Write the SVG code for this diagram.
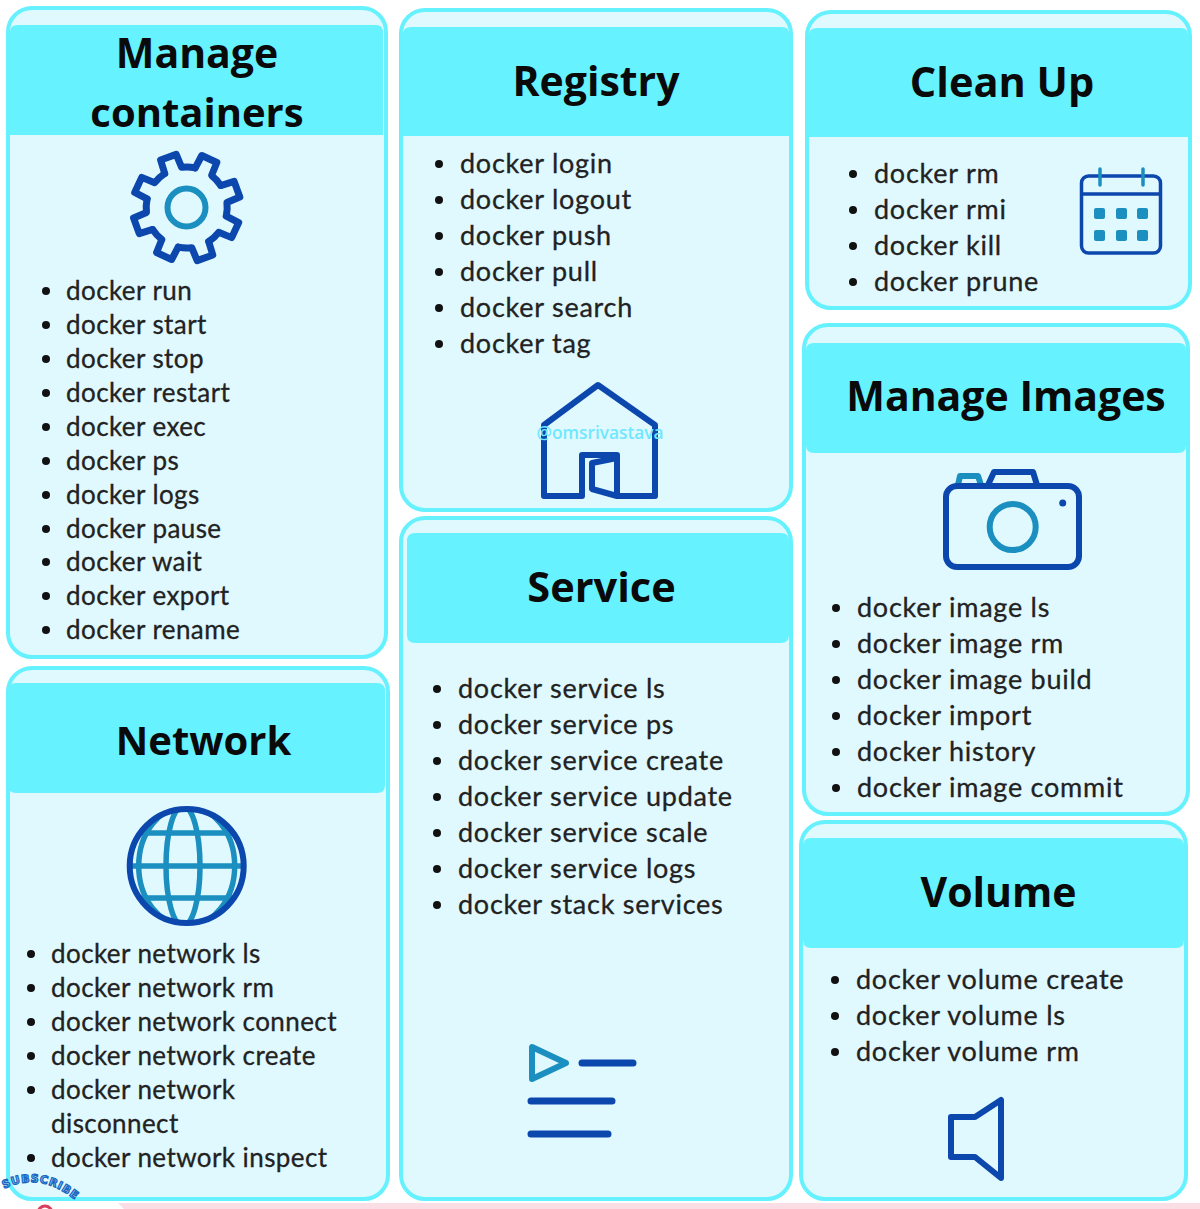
<svg xmlns="http://www.w3.org/2000/svg" xmlns:xlink="http://www.w3.org/1999/xlink" width="1200" height="1209" viewBox="0 0 1200 1209">
<style>
.panel{fill:#e0f9ff;stroke:#66f1ff;stroke-width:4}
.head{fill:#66f2ff}
.title{font-family:"Open Sans","Liberation Sans",sans-serif;font-weight:700;font-size:41px;fill:#0a0a0a;text-anchor:middle}
.item{font-family:"Lato","Open Sans",sans-serif;font-size:26px;fill:#222;stroke:#222;stroke-width:.3px;letter-spacing:.42px}
.wide{font-size:27px;letter-spacing:.75px}
.nv{fill:none;stroke:#0b47ad;stroke-width:6;stroke-linecap:round;stroke-linejoin:round}
.tl{fill:none;stroke:#1a8fc0;stroke-width:6;stroke-linecap:round;stroke-linejoin:round}
.bul{fill:#111}
.sq{fill:#1a8fc0}
</style>
<defs>
<path id="tooth" d="M39.500 -9L53.500 -8.300L53.500 8.300L39.500 9A40.500 40.500 0 0 1 34.400 21.400"/>
<circle id="b" r="4"/>
<clipPath id="globeclip"><circle cx="186.7" cy="866" r="57"/></clipPath>
<path id="arc" d="M4 1189Q42 1170 80 1204"/>
</defs>
<rect width="1200" height="1209" fill="#fff"/>
<path d="M118 1203H1200V1209H124Z" fill="#fbdde6"/>
<circle cx="45" cy="1213" r="7" fill="none" stroke="#d8405f" stroke-width="3"/>

<g id="manage-containers">
<rect class="panel" x="8" y="8" width="378" height="649" rx="24"/>
<path class="head" d="M18 25H376Q383 25 383 32V135H10V32Q10 25 18 25Z"/>
<text class="title" x="197" y="68">Manage</text>
<text class="title" x="197" y="127" style="font-size:40px">containers</text>
<g transform="translate(186.7 207.5)" class="nv" style="stroke-width:7">
<use xlink:href="#tooth" transform="rotate(-110)"/><use xlink:href="#tooth" transform="rotate(-65)"/><use xlink:href="#tooth" transform="rotate(-20)"/><use xlink:href="#tooth" transform="rotate(25)"/><use xlink:href="#tooth" transform="rotate(70)"/><use xlink:href="#tooth" transform="rotate(115)"/><use xlink:href="#tooth" transform="rotate(160)"/><use xlink:href="#tooth" transform="rotate(205)"/>
</g>
<circle class="tl" cx="186.5" cy="207.5" r="19"/>
<g class="bul"><use xlink:href="#b" x="46" y="291"/><use xlink:href="#b" x="46" y="325"/><use xlink:href="#b" x="46" y="359"/><use xlink:href="#b" x="46" y="393"/><use xlink:href="#b" x="46" y="427"/><use xlink:href="#b" x="46" y="461"/><use xlink:href="#b" x="46" y="495"/><use xlink:href="#b" x="46" y="529"/><use xlink:href="#b" x="46" y="562"/><use xlink:href="#b" x="46" y="596"/><use xlink:href="#b" x="46" y="630"/></g>
<text class="item" x="66" y="300">docker run</text>
<text class="item" x="66" y="334">docker start</text>
<text class="item" x="66" y="368">docker stop</text>
<text class="item" x="66" y="402">docker restart</text>
<text class="item" x="66" y="436">docker exec</text>
<text class="item" x="66" y="470">docker ps</text>
<text class="item" x="66" y="504">docker logs</text>
<text class="item" x="66" y="538">docker pause</text>
<text class="item" x="66" y="571">docker wait</text>
<text class="item" x="66" y="605">docker export</text>
<text class="item" x="66" y="639">docker rename</text>
</g>

<g id="registry">
<rect class="panel" x="401" y="10" width="390" height="500" rx="24"/>
<path class="head" d="M411 27H782Q789 27 789 34V136H403V34Q403 27 411 27Z"/>
<text class="title" x="596" y="96">Registry</text>
<g class="bul"><use xlink:href="#b" x="439" y="164"/><use xlink:href="#b" x="439" y="200"/><use xlink:href="#b" x="439" y="236"/><use xlink:href="#b" x="439" y="272"/><use xlink:href="#b" x="439" y="308"/><use xlink:href="#b" x="439" y="344"/></g>
<text class="item wide" x="460" y="173">docker login</text>
<text class="item wide" x="460" y="209">docker logout</text>
<text class="item wide" x="460" y="245">docker push</text>
<text class="item wide" x="460" y="281">docker pull</text>
<text class="item wide" x="460" y="317">docker search</text>
<text class="item wide" x="460" y="353">docker tag</text>
<path class="nv" d="M582 496H544V425L598 385L655 425V496H617M582 496V455H617V496L592 489V463L617 458"/>
<text x="600" y="439" text-anchor="middle" font-family="'Open Sans',sans-serif" font-weight="600" font-size="17.300" fill="#6fe8ff">@omsrivastava</text>
</g>

<g id="clean-up">
<rect class="panel" x="807" y="12" width="383" height="296" rx="24"/>
<path class="head" d="M817 28H1181Q1188 28 1188 35V137H809V35Q809 28 817 28Z"/>
<text class="title" x="1002" y="97" style="font-size:41.500px">Clean Up</text>
<g class="bul"><use xlink:href="#b" x="853" y="174"/><use xlink:href="#b" x="853" y="210"/><use xlink:href="#b" x="853" y="246"/><use xlink:href="#b" x="853" y="282"/></g>
<text class="item wide" x="874" y="183">docker rm</text>
<text class="item wide" x="874" y="219">docker rmi</text>
<text class="item wide" x="874" y="255">docker kill</text>
<text class="item wide" x="874" y="291">docker prune</text>
<rect x="1081.500" y="176" width="79" height="77" rx="7" fill="none" stroke="#0b47ad" stroke-width="3.500"/>
<path d="M1082 194H1161" stroke="#0b47ad" stroke-width="3.500"/>
<path d="M1100 169V185M1143 169V185" stroke="#1a8fc0" stroke-width="3.500" stroke-linecap="round"/>
<g class="sq"><rect x="1094" y="208" width="11" height="11" rx="2"/><rect x="1116" y="208" width="11" height="11" rx="2"/><rect x="1137" y="208" width="11" height="11" rx="2"/><rect x="1094" y="230" width="11" height="11" rx="2"/><rect x="1116" y="230" width="11" height="11" rx="2"/><rect x="1137" y="230" width="11" height="11" rx="2"/></g>
</g>

<g id="manage-images">
<rect class="panel" x="804" y="325" width="384" height="489" rx="24"/>
<path class="head" d="M814 343H1179Q1186 343 1186 350V445Q1186 453 1178 453H814Q806 453 806 445V350Q806 343 814 343Z"/>
<text class="title" x="1006" y="411">Manage Images</text>
<path class="tl" d="M958 485L960 476H978L981 485" stroke-width="5"/>
<path class="nv" d="M988 485L994 472H1033L1037 485"/>
<rect class="nv" x="946" y="486" width="133" height="81" rx="11"/>
<circle class="tl" cx="1012.700" cy="527" r="23"/>
<circle cx="1062.700" cy="503" r="3.500" fill="#0b47ad"/>
<g class="bul"><use xlink:href="#b" x="836" y="608"/><use xlink:href="#b" x="836" y="644"/><use xlink:href="#b" x="836" y="680"/><use xlink:href="#b" x="836" y="716"/><use xlink:href="#b" x="836" y="752"/><use xlink:href="#b" x="836" y="788"/></g>
<text class="item wide" x="857" y="617">docker image ls</text>
<text class="item wide" x="857" y="653">docker image rm</text>
<text class="item wide" x="857" y="689">docker image build</text>
<text class="item wide" x="857" y="725">docker import</text>
<text class="item wide" x="857" y="761">docker history</text>
<text class="item wide" x="857" y="797">docker image commit</text>
</g>

<g id="service">
<rect class="panel" x="401" y="518" width="390" height="681" rx="24"/>
<path class="head" d="M415 533H781Q789 533 789 541V635Q789 643 781 643H415Q407 643 407 635V541Q407 533 415 533Z"/>
<text class="title" x="601.500" y="602" style="font-size:41.500px">Service</text>
<g class="bul"><use xlink:href="#b" x="437" y="689"/><use xlink:href="#b" x="437" y="725"/><use xlink:href="#b" x="437" y="761"/><use xlink:href="#b" x="437" y="797"/><use xlink:href="#b" x="437" y="833"/><use xlink:href="#b" x="437" y="869"/><use xlink:href="#b" x="437" y="905"/></g>
<text class="item wide" x="458" y="698">docker service ls</text>
<text class="item wide" x="458" y="734">docker service ps</text>
<text class="item wide" x="458" y="770">docker service create</text>
<text class="item wide" x="458" y="806">docker service update</text>
<text class="item wide" x="458" y="842">docker service scale</text>
<text class="item wide" x="458" y="878">docker service logs</text>
<text class="item wide" x="458" y="914">docker stack services</text>
<path class="tl" d="M532 1047V1079L566 1063Z" stroke-width="6.500"/>
<path class="nv" d="M582 1063H633M531 1101H612M531 1134H608" style="stroke-width:7"/>
</g>

<g id="network">
<rect class="panel" x="8" y="668" width="380" height="531" rx="24"/>
<path class="head" d="M16 683H377Q385 683 385 691V785Q385 793 377 793H16Q8 793 8 785V691Q8 683 16 683Z"/>
<text class="title" x="203.500" y="755" style="font-size:40px">Network</text>
<g clip-path="url(#globeclip)" fill="none" stroke="#1a8fc0" stroke-width="5.500">
<ellipse cx="186.700" cy="866" rx="48" ry="60"/>
<ellipse cx="183" cy="866" rx="17" ry="60"/>
<path d="M125 833H250M125 866H250M125 898H250"/>
</g>
<circle class="nv" cx="186.700" cy="866" r="57"/>
<g class="bul"><use xlink:href="#b" x="31" y="954"/><use xlink:href="#b" x="31" y="988"/><use xlink:href="#b" x="31" y="1022"/><use xlink:href="#b" x="31" y="1056"/><use xlink:href="#b" x="31" y="1090"/><use xlink:href="#b" x="31" y="1158"/></g>
<text class="item" x="51" y="963">docker network ls</text>
<text class="item" x="51" y="997">docker network rm</text>
<text class="item" x="51" y="1031">docker network connect</text>
<text class="item" x="51" y="1065">docker network create</text>
<text class="item" x="51" y="1099">docker network</text>
<text class="item" x="51" y="1133">disconnect</text>
<text class="item" x="51" y="1167">docker network inspect</text>
</g>

<g id="volume">
<rect class="panel" x="801" y="822" width="385" height="377" rx="24"/>
<path class="head" d="M811 838H1176Q1184 838 1184 846V940Q1184 948 1176 948H811Q803 948 803 940V846Q803 838 811 838Z"/>
<text class="title" x="998.500" y="907">Volume</text>
<g class="bul"><use xlink:href="#b" x="835" y="980"/><use xlink:href="#b" x="835" y="1016"/><use xlink:href="#b" x="835" y="1052"/></g>
<text class="item wide" x="856" y="989">docker volume create</text>
<text class="item wide" x="856" y="1025">docker volume ls</text>
<text class="item wide" x="856" y="1061">docker volume rm</text>
<path class="nv" d="M1001 1100V1178L975 1157H951V1117H975Z"/>
</g>

<g id="subscribe">
<text font-family="'DejaVu Sans',sans-serif" font-weight="700" font-size="11" fill="#8fc8f0" stroke="#1565c0" stroke-width="1.200" letter-spacing="0.800"><textPath xlink:href="#arc">SUBSCRIBE</textPath></text>
</g>
</svg>
